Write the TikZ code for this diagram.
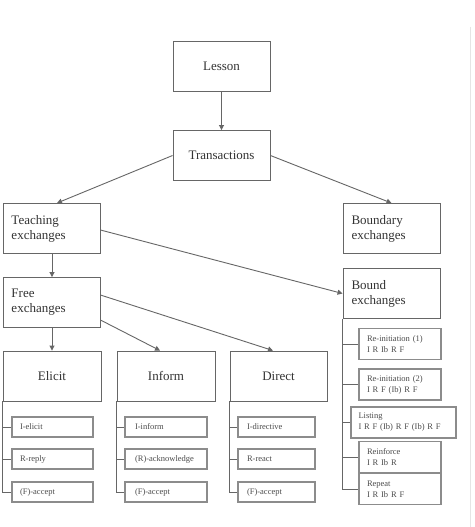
\documentclass[tikz,border=0pt]{standalone}
\usepackage{fontspec}
\setmainfont{Liberation Serif}
\usetikzlibrary{arrows.meta}
\begin{document}
\begin{tikzpicture}[x=1pt,y=-1pt,
  mainbox/.style={draw=black!60, line width=0.9pt, inner sep=0pt, minimum width=97pt, minimum height=50pt, text=black!80, font=\fontsize{13}{15}\selectfont},
  leftbox/.style={mainbox, align=left, text width=80pt},
  subbox/.style={draw=black!45, line width=1.1pt, inner sep=0pt, minimum height=20pt, text=black!70, font=\fontsize{8.5}{11}\selectfont, align=left},
  boundsub/.style={subbox, minimum height=31pt},
  conn/.style={draw=black!60, line width=0.9pt},
  arr/.style={conn, -{Triangle[length=5pt,width=5pt]}},
]
\useasboundingbox (0,0) rectangle (474,527);
\fill[white] (0,0) rectangle (474,527);
\draw[black!10, line width=1pt] (470,27) -- (470,527);

% main boxes
\node[mainbox] (lesson) at (221.5,66.5) {Lesson};
\node[mainbox] (trans) at (221.5,155.5) {Transactions};
\node[leftbox] (teach) at (51.5,228.5) {Teaching\\exchanges};
\node[leftbox] (free) at (51.5,302.5) {Free\\exchanges};
\node[leftbox] (boundary) at (391.5,228.5) {Boundary\\exchanges};
\node[leftbox] (bound) at (391.5,293.5) {Bound\\exchanges};
\node[mainbox, minimum width=98pt] (elicit) at (52,376) {Elicit};
\node[mainbox, minimum width=98pt] (inform) at (166,376) {Inform};
\node[mainbox] (direct) at (278.5,376) {Direct};

% sub boxes
\node[subbox, minimum width=81pt, text width=65pt] (e1) at (52.5,427) {I-elicit};
\node[subbox, minimum width=81pt, text width=65pt] (e2) at (52.5,459) {R-reply};
\node[subbox, minimum width=81pt, text width=65pt] (e3) at (52.5,492) {(F)-accept};
\node[subbox, minimum width=82pt, text width=62pt] (i1) at (166,427) {I-inform};
\node[subbox, minimum width=82pt, text width=62pt] (i2) at (166,459) {(R)-acknowledge};
\node[subbox, minimum width=82pt, text width=62pt] (i3) at (166,492) {(F)-accept};
\node[subbox, minimum width=77pt, text width=59pt] (d1) at (276.5,427) {I-directive};
\node[subbox, minimum width=77pt, text width=59pt] (d2) at (276.5,459) {R-react};
\node[subbox, minimum width=77pt, text width=59pt] (d3) at (276.5,492) {(F)-accept};

\node[boundsub, minimum width=82pt, text width=66pt] (b1) at (400,344) {Re-initiation (1)\\I R Ib R F};
\node[boundsub, minimum width=82pt, text width=66pt] (b2) at (400,384.5) {Re-initiation (2)\\I R F (Ib) R F};
\node[boundsub, minimum width=105pt, text width=90pt] (b3) at (403.5,422.5) {Listing\\I R F (Ib) R F (Ib) R F};
\node[boundsub, minimum width=82pt, text width=66pt] (b4) at (400,457) {Reinforce\\I R Ib R};
\node[boundsub, minimum width=82pt, text width=66pt] (b5) at (400,489) {Repeat\\I R Ib R F};

% arrows
\draw[arr] (lesson.south) -- (trans.north);
\draw[arr] (trans.west) -- (teach.north -| 57,0);
\draw[arr] (trans.east) -- (boundary.north);
\draw[arr] (teach.south -| 52,0) -- (free.north -| 52,0);
\draw[arr] (teach.east |- 0,230) -- (bound.west);
\draw[arr] (free.south -| 52,0) -- (elicit.north);
\draw[arr] (free.east |- 0,320) -- (inform.north -| 160,0);
\draw[arr] (free.east |- 0,295) -- (direct.north -| 273,0);

% brackets
\draw[conn] (elicit.south west) -- (elicit.west |- e3.west) -- (e3.west);
\draw[conn] (elicit.west |- e1.west) -- (e1.west);
\draw[conn] (elicit.west |- e2.west) -- (e2.west);
\draw[conn] (inform.south west) -- (inform.west |- i3.west) -- (i3.west);
\draw[conn] (inform.west |- i1.west) -- (i1.west);
\draw[conn] (inform.west |- i2.west) -- (i2.west);
\draw[conn] (direct.south west) -- (direct.west |- d3.west) -- (d3.west);
\draw[conn] (direct.west |- d1.west) -- (d1.west);
\draw[conn] (direct.west |- d2.west) -- (d2.west);
\draw[conn] (bound.south west) -- (bound.west |- b5.west) -- (b5.west);
\draw[conn] (bound.west |- b1.west) -- (b1.west);
\draw[conn] (bound.west |- b2.west) -- (b2.west);
\draw[conn] (bound.west |- b3.west) -- (b3.west);
\draw[conn] (bound.west |- b4.west) -- (b4.west);
\end{tikzpicture}
\end{document}
